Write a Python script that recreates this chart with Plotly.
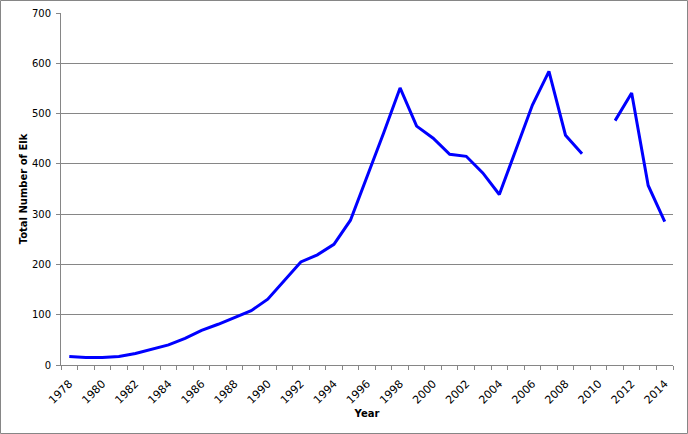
import plotly.graph_objects as go

years = list(range(1978, 2015))
elk = [17, 15, 15, 17, 23, 31, 40, 53, 69, 81, 94, 108, 131, 169, 205, 219, 240,
       288, 374, 461, 551, 475, 451, 419, 415, 382, 339, 427, 517, 584, 457, 420,
       None, 486, 541, 357, 285]
label_years = list(range(1978, 2015, 2))

W, H = 688, 434
L, R, T, B = 61, 15, 13, 69
pw, ph = W - L - R, H - T - B

fig = go.Figure()
fig.add_trace(go.Scatter(x=years, y=elk, mode="lines", connectgaps=False,
                         line=dict(color="#0000FF", width=3), showlegend=False))

font = dict(family="DejaVu Sans", size=10, color="black")
fig.update_layout(
    width=W, height=H,
    margin=dict(l=L, r=R, t=T, b=B, autoexpand=False),
    paper_bgcolor="white", plot_bgcolor="white",
    font=font,
    xaxis=dict(range=[1977.5, 2014.5], tickvals=label_years,
               ticktext=[str(y) for y in label_years], tickangle=-45,
               tickfont=dict(size=11),
               ticks="", showgrid=False, zeroline=False, ticklabelstandoff=7,
               showline=True, linecolor="#868686", linewidth=1,
               minor=dict(tickmode="linear", tick0=1977.5, dtick=1, ticks="outside",
                          ticklen=4, tickcolor="#868686", showgrid=False),
               title=dict(text="<b>Year</b>", font=dict(family="DejaVu Sans", size=10), standoff=4)),
    yaxis=dict(range=[0, 700], dtick=100, ticks="outside", ticklen=4, tickcolor="#868686",
               showgrid=True, gridcolor="#868686", gridwidth=1, zeroline=False,
               ticklabelstandoff=3,
               showline=True, linecolor="#868686", linewidth=1,
               title=dict(text="<b>Total Number of Elk</b>", font=dict(family="DejaVu Sans", size=10), standoff=2)),
    shapes=[dict(type="rect", xref="paper", yref="paper",
                 x0=(0.5 - L) / pw, x1=(W - 0.5 - L) / pw,
                 y0=(H - B - (H - 0.5)) / ph, y1=(H - B - 0.5) / ph,
                 line=dict(color="#868686", width=1), fillcolor="rgba(0,0,0,0)", layer="below")],
)

fig.write_html("out.html", config={"displayModeBar": False},
               post_script="document.body.style.margin='0';document.body.style.overflow='hidden';")
